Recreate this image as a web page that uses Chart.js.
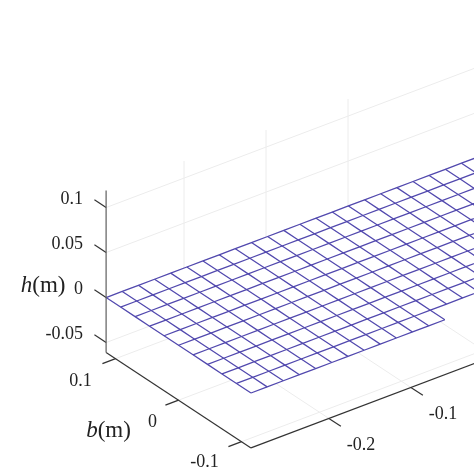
<!DOCTYPE html>
<html>
<head>
<meta charset="utf-8">
<style>html,body{margin:0;padding:0;background:#fff}#w{width:474px;height:474px;position:relative}</style>
<script src="https://cdn.jsdelivr.net/npm/chart.js@4"></script>
</head>
<body>
<div id="w"><canvas id="c" width="474" height="474"></canvas></div>
<script>
// Mesh samples
const aGrid = [-0.295,-0.2753,-0.2556,-0.2359,-0.2162,-0.1965,-0.1768,-0.1571,-0.1374,-0.1177,-0.098,-0.0783,-0.0586,-0.0389,-0.0192,0.0005,0.0202,0.0399,0.0596,0.0793,0.099,0.1187,0.1384,0.1581,0.1778];
const bGrid = [-0.115,-0.092,-0.069,-0.046,-0.023,0,0.023,0.046,0.069,0.092,0.115];
const surfaceH = [0,0,0,0,0,0,0,0,0,0,0];
// Number of a-samples present along each b-row: the front row stops early
const rowSamples = [13,25,25,25,25,25,25,25,25,25,25];
// Axis ticks
const aTicks = [-0.2,-0.1];
const aTickLabels = ['-0.2','-0.1'];
const bTicks = [0.1,0,-0.1];
const bTickLabels = ['0.1','0','-0.1'];
const hTicks = [0.1,0.05,0,-0.05];
const hTickLabels = ['0.1','0.05','0','-0.05'];
// Axis box limits
const aLim = [-0.295,0.25];
const bLim = [-0.115,0.115];
const hLim = [-0.061,0.119];

// View of the 3D box: plane coordinates for a point (a,b,h)
function proj(a,b,h){
  return {
    x: 251 + (a-aLim[0])*820 - (b-bLim[0])*630,
    y: 393 - (a-aLim[0])*310 - (b-bLim[0])*415 - h*900
  };
}
function seg(p,q,color,width,order){
  return {data:[proj(...p),proj(...q)],borderColor:color,borderWidth:width,order,showLine:true,pointRadius:0,fill:false,tension:0};
}
const GRID='#ececec', MESH='#5148ae', AX='#333333', ZAX='#5e5e5e';
const ds=[];
// faint grid: back wall and floor
hTicks.forEach(h=>ds.push(seg([aLim[0],bLim[1],h],[aLim[1],bLim[1],h],GRID,1,5)));
aTicks.concat([0]).forEach(a=>{
  ds.push(seg([a,bLim[1],hLim[0]],[a,bLim[1],hLim[1]],GRID,1,5));
  ds.push(seg([a,bLim[0],hLim[0]],[a,bLim[1],hLim[0]],GRID,1,5));
});
bTicks.forEach(b=>ds.push(seg([aLim[0],b,hLim[0]],[aLim[1],b,hLim[0]],GRID,1,5)));
// white mesh faces hide the grid behind them
const outline=[];
bGrid.forEach((b,i)=>outline.push(proj(aGrid[rowSamples[i]-1],b,surfaceH[i])));
outline.push(proj(aGrid[0],bGrid[bGrid.length-1],0),proj(aGrid[0],bGrid[0],0),proj(aGrid[rowSamples[0]-1],bGrid[0],0));
ds.push({data:outline,showLine:true,pointRadius:0,borderWidth:0,borderColor:'#fff',backgroundColor:'#ffffff',fill:'shape',order:4,tension:0});
// mesh wires
aGrid.forEach((a,k)=>{
  const pts=[];
  bGrid.forEach((b,i)=>{ if(k<rowSamples[i]) pts.push(proj(a,b,surfaceH[i])); });
  ds.push({data:pts,borderColor:MESH,borderWidth:1.25,showLine:true,pointRadius:0,fill:false,order:3,tension:0});
});
bGrid.forEach((b,i)=>ds.push({data:aGrid.slice(0,rowSamples[i]).map(a=>proj(a,b,surfaceH[i])),borderColor:MESH,borderWidth:1.25,showLine:true,pointRadius:0,fill:false,order:3,tension:0}));
// axes and ticks
ds.push(seg([aLim[0],bLim[1],hLim[0]],[aLim[0],bLim[1],hLim[1]],ZAX,1.2,1));
ds.push(seg([aLim[0],bLim[0],hLim[0]],[aLim[0],bLim[1],hLim[0]],AX,1.2,1));
ds.push(seg([aLim[0],bLim[0],hLim[0]],[aLim[1],bLim[0],hLim[0]],AX,1.2,1));
hTicks.forEach(h=>ds.push(seg([aLim[0],bLim[1],h],[aLim[0],bLim[1]+0.0185,h],AX,1.2,1)));
bTicks.forEach(b=>ds.push(seg([aLim[0],b,hLim[0]],[aLim[0]-0.016,b,hLim[0]],AX,1.2,1)));
aTicks.forEach(a=>ds.push(seg([a,bLim[0],hLim[0]],[a,bLim[0]-0.019,hLim[0]],AX,1.2,1)));

const textPlugin={id:'labels3d',afterDatasetsDraw(chart){
  const {ctx,scales:{x,y}}=chart;
  const put=(p,dx,dy,t,align,font)=>{
    ctx.font=font;ctx.textAlign=align;ctx.textBaseline='middle';ctx.fillStyle='#222';
    ctx.fillText(t,x.getPixelForValue(p.x)+dx,y.getPixelForValue(p.y)+dy);
  };
  const F='18px "Liberation Serif"';
  hTicks.forEach((h,i)=>put(proj(aLim[0],bLim[1],h),-23,-8,hTickLabels[i],'right',F));
  const bOff=[[-35,23],[-26,22],[-37,21]];
  bTicks.forEach((b,i)=>put(proj(aLim[0],b,hLim[0]),bOff[i][0],bOff[i][1],bTickLabels[i],'center',F));
  aTicks.forEach((a,i)=>put(proj(a,bLim[0],hLim[0]),32,27,aTickLabels[i],'center',F));
  const math=(cx,cy,v)=>{
    ctx.textBaseline='middle';ctx.fillStyle='#222';ctx.textAlign='left';
    ctx.font='italic 23px "Liberation Serif"';const w1=ctx.measureText(v).width;
    ctx.font='23px "Liberation Serif"';const w2=ctx.measureText('(m)').width;
    const x0=cx-(w1+w2)/2;
    ctx.font='italic 23px "Liberation Serif"';ctx.fillText(v,x0,cy);
    ctx.font='23px "Liberation Serif"';ctx.fillText('(m)',x0+w1,cy);
  };
  const hm=proj(aLim[0],bLim[1],0), bm=proj(aLim[0],0,hLim[0]);
  math(x.getPixelForValue(hm.x)-63,y.getPixelForValue(hm.y)-12,'h');
  math(x.getPixelForValue(bm.x)-70,y.getPixelForValue(bm.y)+31,'b');
}};

new Chart(document.getElementById('c'),{
  type:'scatter',
  data:{datasets:ds},
  options:{
    responsive:false,animation:false,
    layout:{padding:0},
    plugins:{legend:{display:false},tooltip:{enabled:false},title:{display:false}},
    scales:{
      x:{type:'linear',min:0,max:474,display:false},
      y:{type:'linear',min:0,max:474,reverse:true,display:false}
    }
  },
  plugins:[textPlugin]
});
</script>
</body>
</html>
